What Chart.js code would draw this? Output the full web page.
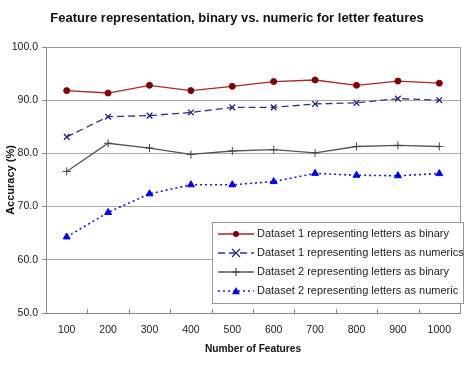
<!DOCTYPE html>
<html>
<head>
<meta charset="utf-8">
<script src="https://cdn.jsdelivr.net/npm/chart.js@4/dist/chart.umd.min.js"></script>
<style>
html,body{margin:0;padding:0;background:#fff;}
#wrap{width:474px;height:366px;position:relative;}
</style>
</head>
<body>
<div id="wrap"><canvas id="c" width="474" height="366"></canvas></div>
<script>
const categories = ['100','200','300','400','500','600','700','800','900','1000'];
const ds1Binary  = [91.8, 91.35, 92.8, 91.8, 92.6, 93.5, 93.8, 92.8, 93.6, 93.2];
const ds1Numeric = [83.1, 86.9, 87.1, 87.7, 88.65, 88.65, 89.3, 89.5, 90.3, 90.0];
const ds2Binary  = [76.6, 81.9, 81.0, 79.8, 80.45, 80.7, 80.1, 81.3, 81.5, 81.3];
const ds2Numeric = [64.3, 68.9, 72.4, 74.1, 74.1, 74.7, 76.25, 75.9, 75.8, 76.2];
const seriesNames = [
  'Dataset 1 representing letters as binary',
  'Dataset 1 representing letters as numerics',
  'Dataset 2 representing letters as binary',
  'Dataset 2 representing letters as numeric'
];
const titleText = 'Feature representation, binary vs. numeric for letter features';
const xTitle = 'Number of Features';
const yTitle = 'Accuracy (%)';

const FONT = "'Liberation Sans', Arial, sans-serif";

function drawMarker(ctx, style, x, y, r, fill, stroke) {
  ctx.save();
  ctx.fillStyle = fill; ctx.strokeStyle = stroke; ctx.lineWidth = 1.2; ctx.setLineDash([]);
  ctx.beginPath();
  if (style === 'circle') { ctx.arc(x, y, r, 0, Math.PI*2); ctx.fill(); }
  else if (style === 'crossRot') { ctx.moveTo(x-r,y-r); ctx.lineTo(x+r,y+r); ctx.moveTo(x+r,y-r); ctx.lineTo(x-r,y+r); ctx.stroke(); }
  else if (style === 'cross') { ctx.moveTo(x-r,y); ctx.lineTo(x+r,y); ctx.moveTo(x,y-r); ctx.lineTo(x,y+r); ctx.stroke(); }
  else if (style === 'triangle') { ctx.moveTo(x, y-r); ctx.lineTo(x+r, y+r*0.8); ctx.lineTo(x-r, y+r*0.8); ctx.closePath(); ctx.fill(); }
  ctx.restore();
}

const boxPlugin = {
  id: 'boxPlugin',
  afterDraw(chart) {
    const ctx = chart.ctx, a = chart.chartArea;
    const xs = chart.scales.x;
    ctx.save();
    // title
    ctx.fillStyle = '#111'; ctx.font = 'bold 13px ' + FONT;
    ctx.textAlign = 'center'; ctx.textBaseline = 'middle';
    ctx.fillText(titleText, 237, 18);
    // top and right border
    ctx.strokeStyle = '#999'; ctx.lineWidth = 1;
    ctx.beginPath();
    ctx.moveTo(a.left, a.top + 0.5); ctx.lineTo(a.right + 0.5, a.top + 0.5); ctx.lineTo(a.right + 0.5, a.bottom);
    ctx.stroke();
    // x tick marks going inside
    ctx.strokeStyle = '#888';
    const n = categories.length;
    ctx.beginPath();
    for (let i = 1; i <= n; i++) {
      const x = Math.round(xs.left + i * (xs.right - xs.left) / n) + 0.5;
      ctx.moveTo(x, a.bottom); ctx.lineTo(x, a.bottom - 4);
    }
    ctx.stroke();
    // legend
    const lx = 212, ly = 222, lw = 251, lh = 81;
    ctx.fillStyle = '#fff'; ctx.fillRect(lx, ly, lw, lh);
    ctx.strokeStyle = '#999'; ctx.strokeRect(lx + 0.5, ly + 0.5, lw, lh);
    ctx.font = '11px ' + FONT; ctx.textBaseline = 'middle'; ctx.textAlign = 'left';
    chart.data.datasets.forEach((d, i) => {
      const y = ly + 12 + i * 19;
      ctx.save();
      ctx.strokeStyle = d.borderColor; ctx.lineWidth = d.borderWidth;
      ctx.setLineDash(d.borderDash || []);
      ctx.beginPath(); ctx.moveTo(218, y); ctx.lineTo(254, y); ctx.stroke();
      ctx.restore();
      drawMarker(ctx, d.pointStyle, 236, y, d.pointRadius, d.pointBackgroundColor, d.pointBorderColor);
      ctx.fillStyle = '#222';
      ctx.fillText(d.label, 257, y);
    });
    ctx.restore();
  }
};

new Chart(document.getElementById('c'), {
  type: 'line',
  data: {
    labels: categories,
    datasets: [
      { label: seriesNames[0], data: ds1Binary, borderColor: '#a52a2a', borderWidth: 1.3,
        pointStyle: 'circle', pointRadius: 3, pointBackgroundColor: '#800000', pointBorderColor: '#800000', pointBorderWidth: 1 },
      { label: seriesNames[1], data: ds1Numeric, borderColor: '#33338f', borderWidth: 1.3, borderDash: [7, 4],
        pointStyle: 'crossRot', pointRadius: 4, pointBackgroundColor: '#22228a', pointBorderColor: '#22228a', pointBorderWidth: 1.3 },
      { label: seriesNames[2], data: ds2Binary, borderColor: '#555', borderWidth: 1.3,
        pointStyle: 'cross', pointRadius: 4, pointBackgroundColor: '#444', pointBorderColor: '#444', pointBorderWidth: 1 },
      { label: seriesNames[3], data: ds2Numeric, borderColor: '#1a1ae6', borderWidth: 1.6, borderDash: [2, 3],
        pointStyle: 'triangle', pointRadius: 4, pointBackgroundColor: '#0000ee', pointBorderColor: '#0000ee', pointBorderWidth: 1 }
    ]
  },
  options: {
    responsive: false,
    animation: false,
    devicePixelRatio: 1,
    layout: { padding: { left: 0, right: 14, top: 47, bottom: 0 } },
    plugins: {
      legend: { display: false },
      tooltip: { enabled: false },
      title: { display: false }
    },
    scales: {
      x: {
        offset: true,
        grid: { display: false, drawOnChartArea: false },
        border: { display: true, color: '#888', width: 1 },
        ticks: { color: '#222', font: { family: FONT, size: 10.5 }, padding: 3, maxRotation: 0 },
        title: { display: true, text: xTitle, color: '#111', font: { family: FONT, size: 10.2, weight: 'bold' }, padding: { top: 8, bottom: 11 } },
        afterFit(s) { s.height = 53; }
      },
      y: {
        min: 50, max: 100,
        ticks: { stepSize: 10, color: '#222', font: { family: FONT, size: 10.5 }, padding: 4,
          callback: v => Number(v).toFixed(1) },
        grid: { color: '#aaa', lineWidth: 1, tickLength: 4, tickColor: '#888' },
        border: { display: true, color: '#888', width: 1 },
        title: { display: true, text: yTitle, color: '#111', font: { family: FONT, size: 11, weight: 'bold' }, padding: { top: 4, bottom: 0 } },
        afterFit(s) { s.width = 46; }
      }
    }
  },
  plugins: [boxPlugin]
});
</script>
</body>
</html>
